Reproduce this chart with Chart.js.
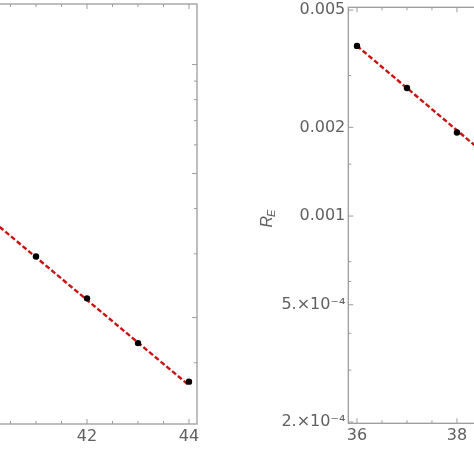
<!DOCTYPE html>
<html>
<head>
<meta charset="utf-8">
<script src="https://cdn.jsdelivr.net/npm/chart.js"></script>
<style>
  html, body { margin: 0; padding: 0; background: #fff; overflow: hidden; width: 474px; height: 474px; }
  #wrap { position: relative; width: 474px; height: 474px; overflow: hidden; }
  canvas { position: absolute; top: 0; }
  #left { left: -240px; }
  #right { left: 240px; }
</style>
</head>
<body>
<div id="wrap">
  <canvas id="left" width="455" height="474" style="width:455px;height:474px"></canvas>
  <canvas id="right" width="560" height="474" style="width:560px;height:474px"></canvas>
</div>
<script>
// left panel (only its right part is in view)
var leftX = [41, 42, 43, 44];
var leftY = [2.95, 2.26, 1.70, 1.33];
var leftFitX = [36, 44];
var leftFitY = [11.4, 1.30];

// right panel, R_E
var rightX = [36, 37, 38];
var rightY = [0.00378, 0.00272, 0.00192];
var rightFitX = [36, 44];
var rightFitY = [0.00378, 0.00027];

// ticks
var xTicks = [36, 36.5, 37, 37.5, 38, 38.5, 39, 39.5, 40, 40.5, 41, 41.5, 42, 42.5, 43, 43.5, 44];
var xLabels = [36, 38, 40, 42, 44];
var leftYTicks = [1.5, 2, 3, 4, 5, 6, 7, 8, 9, 10];
var leftYMajor = [2, 5, 10];
var rightYTicks = [0.005, 0.003, 0.002, 0.0015, 0.001, 0.0007, 0.0006, 0.0005, 0.0004, 0.0003, 0.0002];
var rightYMajor = [0.005, 0.002, 0.001, 0.0005, 0.0002];
var rightYText = ["0.005", "0.002", "0.001", "5.\u00d710\u207b\u2074", "2.\u00d710\u207b\u2074"];

var FRAME = "#9c9c9c";
var TEXT = "#606060";
var RED = "#cc1111";
var FONT = "'DejaVu Sans', sans-serif";

function pts(xs, ys) {
  return xs.map(function (x, i) {
    return { x: x, y: ys[i] };
  });
}

function setTicks(values, majors) {
  return function (scale) {
    scale.ticks = values.map(function (v) {
      return { value: v, major: majors.indexOf(v) >= 0 };
    });
  };
}

// Mathematica-like frame with inward ticks on all four sides
var framePlugin = {
  id: "frame",
  beforeDatasetsDraw: function (chart) {
    var ctx = chart.ctx;
    var a = chart.chartArea;
    var xs = chart.scales.x;
    var ys = chart.scales.y;
    ctx.save();
    ctx.strokeStyle = FRAME;
    ctx.lineWidth = 1.3;
    ctx.strokeRect(a.left, a.top, a.right - a.left, a.bottom - a.top);
    ctx.lineWidth = 1;
    ctx.beginPath();
    xs.ticks.forEach(function (t) {
      var p = xs.getPixelForValue(t.value);
      var len = t.major ? 5 : 3;
      ctx.moveTo(p, a.bottom);
      ctx.lineTo(p, a.bottom - len);
      ctx.moveTo(p, a.top);
      ctx.lineTo(p, a.top + len);
    });
    ys.ticks.forEach(function (t) {
      var p = ys.getPixelForValue(t.value);
      var len = t.major ? 5 : 3;
      ctx.moveTo(a.left, p);
      ctx.lineTo(a.left + len, p);
      ctx.moveTo(a.right, p);
      ctx.lineTo(a.right - len, p);
    });
    ctx.stroke();
    ctx.restore();
  }
};

// rotated italic R with subscript E
var titlePlugin = {
  id: "retitle",
  afterDraw: function (chart) {
    var ctx = chart.ctx;
    var a = chart.chartArea;
    ctx.save();
    ctx.translate(a.left - 82, 218);
    ctx.rotate(-Math.PI / 2);
    ctx.fillStyle = TEXT;
    ctx.textBaseline = "alphabetic";
    ctx.font = "italic 16px 'Liberation Sans', sans-serif";
    var wR = ctx.measureText("R").width;
    ctx.font = "italic 11px 'Liberation Sans', sans-serif";
    var wE = ctx.measureText("E").width;
    var x0 = -(wR + wE) / 2;
    ctx.font = "italic 16px 'Liberation Sans', sans-serif";
    ctx.fillText("R", x0, 6);
    ctx.font = "italic 11px 'Liberation Sans', sans-serif";
    ctx.fillText("E", x0 + wR - 1, 9);
    ctx.restore();
  }
};

function xAxis(min, max) {
  return {
    type: "linear",
    min: min,
    max: max,
    grid: { display: false, drawTicks: false },
    border: { display: false },
    afterBuildTicks: setTicks(xTicks, xLabels),
    afterFit: function (s) {
      s.height = 40;
      s.paddingLeft = 0;
      s.paddingRight = 0;
    },
    ticks: {
      autoSkip: false,
      maxRotation: 0,
      padding: 3,
      color: TEXT,
      font: { family: FONT, size: 16 },
      callback: function (v) {
        return xLabels.indexOf(v) >= 0 ? String(v) : "";
      }
    }
  };
}

function datasets(px, py, fx, fy) {
  return [
    {
      data: pts(px, py),
      showLine: false,
      pointRadius: 3.2,
      pointBackgroundColor: "#000",
      pointBorderWidth: 0
    },
    {
      data: pts(fx, fy),
      showLine: true,
      borderColor: RED,
      borderWidth: 2.4,
      borderDash: [5, 2.5],
      pointRadius: 0,
      fill: false
    }
  ];
}

var common = {
  responsive: false,
  animation: false,
  events: [],
  plugins: { legend: { display: false }, tooltip: { enabled: false } }
};

new Chart(document.getElementById("left"), {
  type: "scatter",
  data: { datasets: datasets(leftX, leftY, leftFitX, leftFitY) },
  options: Object.assign({}, common, {
    layout: { padding: { left: 12.3, right: 18, top: 1, bottom: 10 } },
    scales: {
      x: xAxis(35.83, 44.157),
      y: {
        type: "logarithmic",
        display: false,
        min: 1.016,
        max: 14.7,
        afterBuildTicks: setTicks(leftYTicks, leftYMajor)
      }
    }
  }),
  plugins: [framePlugin]
});

new Chart(document.getElementById("right"), {
  type: "scatter",
  data: { datasets: datasets(rightX, rightY, rightFitX, rightFitY) },
  options: Object.assign({}, common, {
    layout: { padding: { left: 0, right: 34.7, top: 7.3, bottom: 10.7 } },
    scales: {
      x: xAxis(35.826, 44.17),
      y: {
        type: "logarithmic",
        min: 0.000198,
        max: 0.00511,
        grid: { display: false, drawTicks: false },
        border: { display: false },
        afterBuildTicks: setTicks(rightYTicks, rightYMajor),
        afterFit: function (s) {
          s.width = 108.3;
          s.paddingTop = 0;
          s.paddingBottom = 0;
        },
        ticks: {
          autoSkip: false,
          padding: 3,
          color: TEXT,
          font: { family: FONT, size: 16 },
          callback: function (v) {
            var i = rightYMajor.indexOf(v);
            return i >= 0 ? rightYText[i] : "";
          }
        }
      }
    }
  }),
  plugins: [framePlugin, titlePlugin]
});
</script>
</body>
</html>
